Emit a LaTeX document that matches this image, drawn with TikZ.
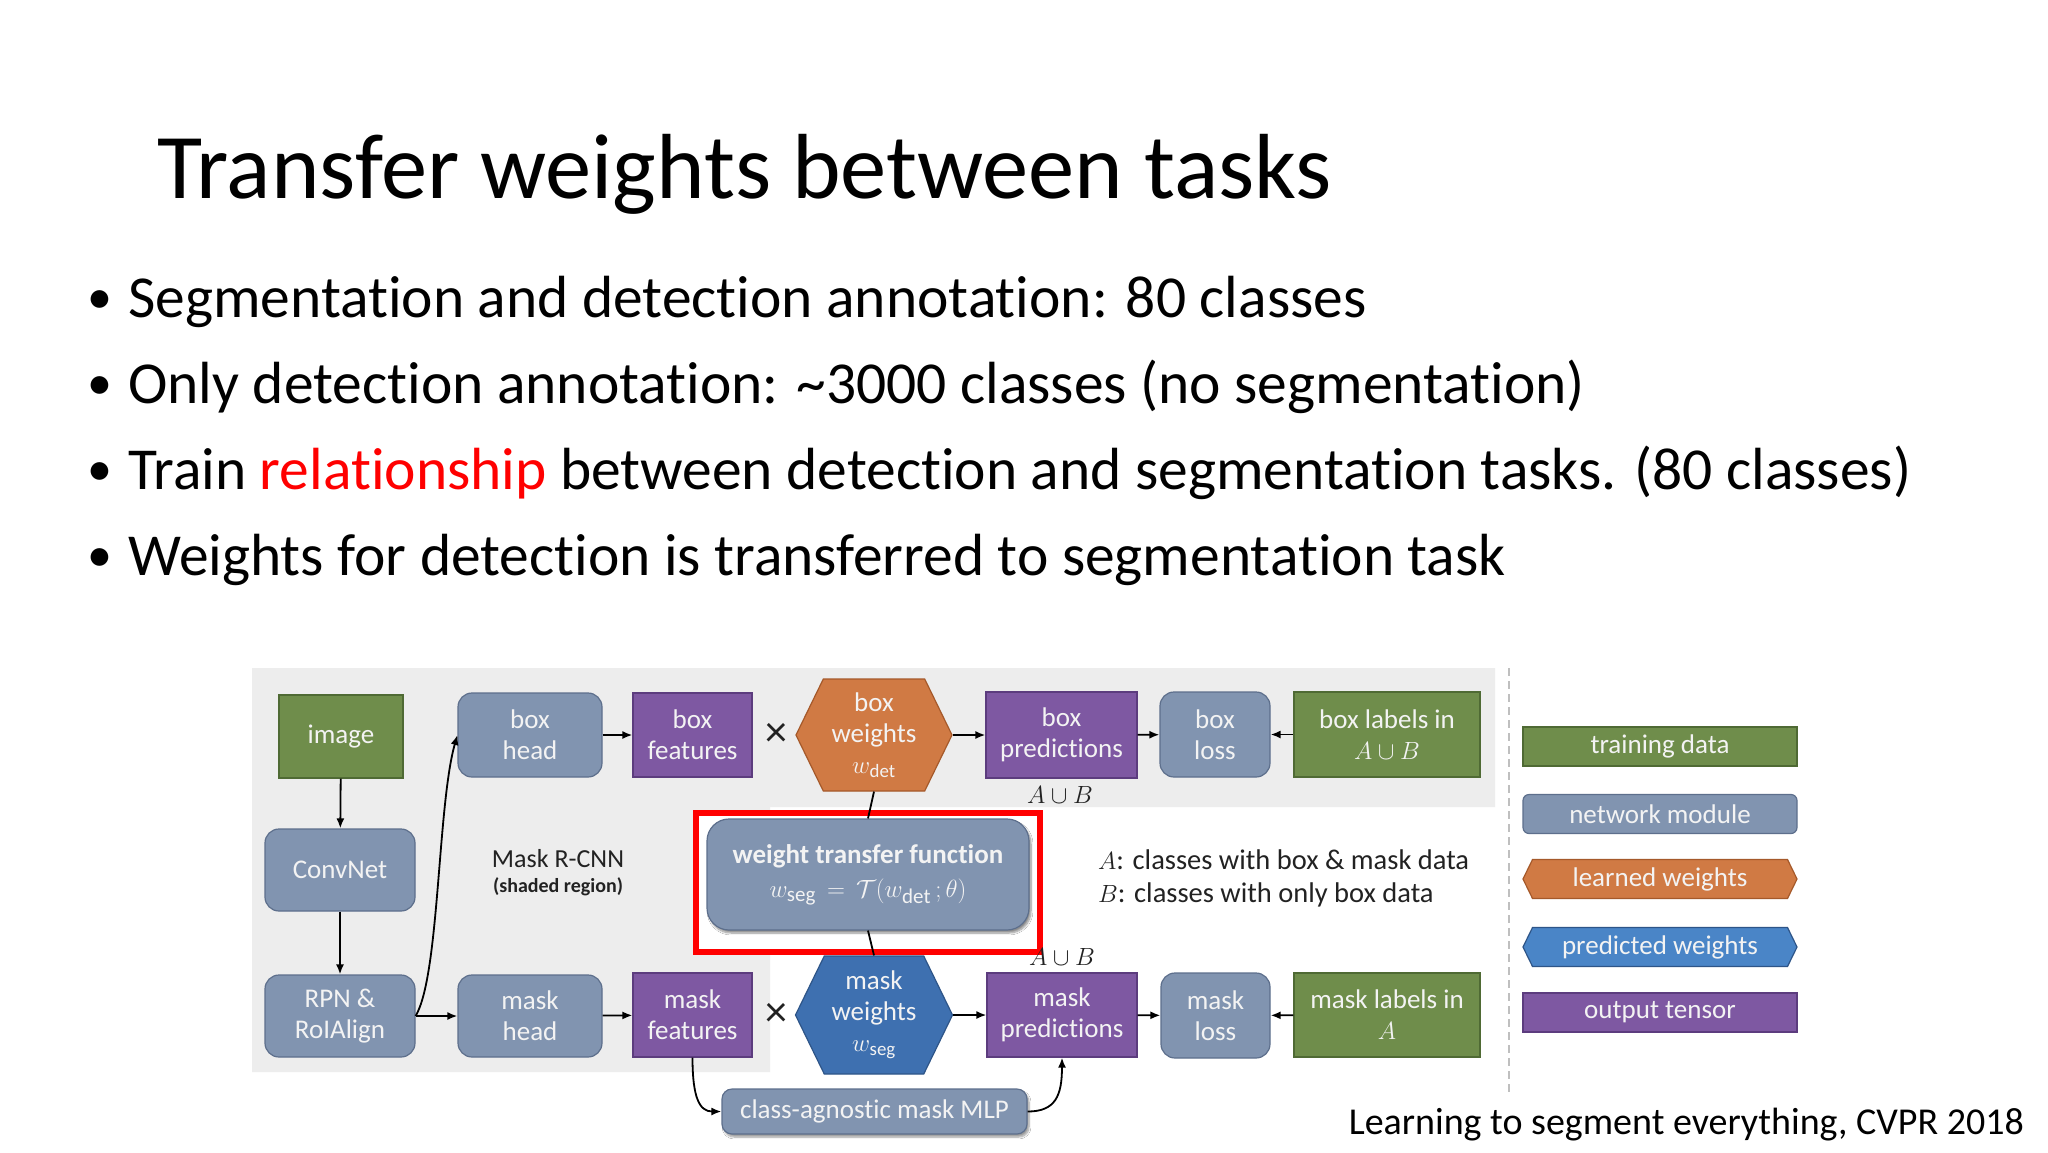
\documentclass[tikz,border=0pt]{standalone}
\usepackage{fontspec}
\setmainfont{Carlito}[Ligatures=NoCommon]
\usetikzlibrary{shapes.symbols,arrows.meta,shadows.blur}
\definecolor{cgreen}{HTML}{6F8D4B}
\definecolor{cgreenD}{HTML}{4F6A34}
\definecolor{cmod}{HTML}{8194B0}
\definecolor{cmodD}{HTML}{5D6F8C}
\definecolor{cpurp}{HTML}{7E58A2}
\definecolor{cpurpD}{HTML}{5C3C7E}
\definecolor{corange}{HTML}{D07A44}
\definecolor{corangeD}{HTML}{A5592A}
\definecolor{cblue}{HTML}{3E70B0}
\definecolor{cblueL}{HTML}{4A85C7}
\definecolor{cblueD}{HTML}{2E5588}
\definecolor{boxtxt}{HTML}{F3F3F3}
\definecolor{shadegray}{HTML}{EDEDED}
\definecolor{dtext}{HTML}{222222}
\definecolor{hlred}{HTML}{FF0000}
\begin{document}
\begin{tikzpicture}[x=1pt,y=-1pt,
  base/.style={draw, line width=1.2pt, text=boxtxt, align=center, inner sep=0pt,
    font=\fontsize{27}{31}\selectfont},
  datab/.style={base, fill=cgreen, draw=cgreenD},
  modb/.style={base, fill=cmod, draw=cmodD, rounded corners=14pt},
  outb/.style={base, fill=cpurp, draw=cpurpD},
  hexb/.style={base, signal, signal to=east and west, signal pointer angle=128},
  learnb/.style={hexb, fill=corange, draw=corangeD},
  predb/.style={hexb, fill=cblue, draw=cblueD},
  legb/.style={minimum width=274pt, minimum height=39pt},
  sym/.style={inner sep=0pt, font=\fontsize{44}{44}\selectfont, text=dtext},
  lbl/.style={inner sep=0pt, font=\fontsize{24}{28}\selectfont, text=dtext},
  arr/.style={-{Latex[length=10pt,width=8pt]}, line width=1.8pt, black},
  ln/.style={line width=1.8pt, black},
  slide/.style={inner sep=0pt, text=black, anchor=base west},
  bfont/.style={font=\fontsize{59.5}{70}\selectfont}
]
\useasboundingbox (0,0) rectangle (2048,1152);
\fill[white] (0,0) rectangle (2048,1152);

% title and bullets
\node[slide, font=\fontsize{92.5}{100}\selectfont] (title) at (157,198) {Transfer weights between tasks};
\foreach \yy/\nm in {317/b1,403/b2,489/b3,575/b4}{
  \node[inner sep=0pt, anchor=base, font=\fontsize{50}{60}\selectfont] (dot\nm) at (100,\yy-4) {•};
}
\node[slide, bfont] (b1) at (128,317) {Segmentation and detection annotation: 80 classes};
\node[slide, bfont] (b2) at (128,403) {Only detection annotation: \textasciitilde 3000 classes (no segmentation)};
\node[slide, bfont] (b3) at (128,489) {Train \textcolor{hlred}{relationship} between detection and segmentation tasks. (80 classes)};
\node[slide, bfont] (b4) at (128,575) {Weights for detection is transferred to segmentation task};

% shaded region
\fill[shadegray] (252,668) -- (1495,668) -- (1495,807) -- (770,807) -- (770,1072) -- (252,1072) -- cycle;

% red highlight
\node[draw=hlred, line width=6pt, fill=white, minimum width=344pt, minimum height=139pt, inner sep=0pt] (hl) at (868,882.5) {};

% top row
\node[datab, minimum width=124pt, minimum height=83pt] (img) at (341,736.5) {image};
\node[modb, minimum width=150pt, minimum height=82pt] (conv) at (340,870) {ConvNet};
\node[modb, minimum width=150pt, minimum height=82pt] (rpn) at (340,1016) {RPN \&\\RoIAlign};
\node[modb, minimum width=144pt, minimum height=84pt] (bhead) at (530,735) {box\\head};
\node[outb, minimum width=119pt, minimum height=84pt] (bfeat) at (692.5,735) {box\\features};
\node[sym] (x1) at (776,735) {×};
\node[learnb, minimum width=156pt, minimum height=112pt] (bw) at (874,735) {box\\weights\\$w_{\mathrm{det}}$};
\node[outb, minimum width=151pt, minimum height=86pt] (bpred) at (1061.5,735) {box\\predictions};
\node[modb, minimum width=110pt, minimum height=85pt] (bloss) at (1215,734.5) {box\\loss};
\node[datab, minimum width=186pt, minimum height=85pt] (blab) at (1387,734.5) {box labels in\\$A\cup B$};
\node[lbl] (aub1) at (1060,795) {$A\cup B$};

% middle
\node[inner sep=0pt, text=dtext, font=\fontsize{26}{30}\selectfont] (mrcnn) at (558,859) {Mask R-CNN};
\node[inner sep=0pt, text=dtext, font=\fontsize{20}{24}\selectfont\bfseries] (shreg) at (558,887) {(shaded region)};
\node[base, fill=cmod, draw=cmodD, rounded corners=22pt, minimum width=322pt, minimum height=111pt,
  font=\fontsize{27}{34}\selectfont,
  blur shadow={shadow xshift=2pt, shadow yshift=-3pt, shadow blur steps=8, shadow opacity=45}] (wtf) at (868,874.5)
  {\textbf{weight transfer function}\\{\fontsize{30}{34}\selectfont$w_{\mathrm{seg}} \,=\, \mathcal{T}(w_{\mathrm{det}}\,;\theta)$}};
\node[inner sep=0pt, anchor=west, text=dtext, font=\fontsize{28.5}{30}\selectfont] (defa) at (1098,860) {$A$: classes with box \& mask data};
\node[inner sep=0pt, anchor=west, text=dtext, font=\fontsize{28.5}{30}\selectfont] (defb) at (1098,895) {$B$: classes with only box data};

% bottom row
\node[modb, minimum width=144pt, minimum height=82pt] (mhead) at (530,1016) {mask\\head};
\node[outb, minimum width=119pt, minimum height=84pt] (mfeat) at (692.5,1015) {mask\\features};
\node[sym] (x2) at (776,1015) {×};
\node[predb, minimum width=157pt, minimum height=118pt] (mw) at (874,1015) {mask\\weights\\$w_{\mathrm{seg}}$};
\node[outb, minimum width=150pt, minimum height=84pt] (mpred) at (1062,1015) {mask\\predictions};
\node[modb, minimum width=109pt, minimum height=85pt] (mloss) at (1215.5,1015.5) {mask\\loss};
\node[datab, minimum width=186pt, minimum height=84pt] (mlab) at (1387,1015) {mask labels in\\$A$};
\node[lbl] (aub2) at (1062,957) {$A\cup B$};
\node[base, fill=cmod, draw=cmodD, rounded corners=10pt, minimum width=305pt, minimum height=45pt,
  blur shadow={shadow xshift=2pt, shadow yshift=-3pt, shadow blur steps=6, shadow opacity=40}] (mlp) at (874.5,1111.5) {class-agnostic mask MLP};

% connectors
\draw[arr] (img) -- (conv);
\draw[arr] (conv) -- (rpn);
\draw[arr] (rpn.east) -- (mhead.west);
\draw[arr] (rpn.east) .. controls +(24,-40) and +(-20,70) .. (bhead.west);
\draw[arr] (bhead) -- (bfeat);
\draw[arr] (bw.east) -- (bpred.west);
\draw[arr] (bpred) -- (bloss);
\draw[arr] (blab) -- (bloss);
\draw[ln] (bw.south) -- (wtf.north);
\draw[ln] (wtf.south) -- (mw.north);
\draw[arr] (mhead) -- (mfeat);
\draw[arr] (mw.east) -- (mpred.west);
\draw[arr] (mpred) -- (mloss);
\draw[arr] (mlab) -- (mloss);
\draw[arr] (mfeat.south) .. controls +(0,40) and +(-22,0) .. (mlp.west);
\draw[arr] (mlp.east) .. controls +(28,0) and +(0,38) .. (mpred.south);

% legend
\draw[dash pattern=on 8pt off 5pt, draw=black!25, line width=1.2pt] (1509,668) -- (1509,1092);
\node[datab, legb] (ltrain) at (1660,746.5) {training data};
\node[modb, legb, rounded corners=6pt] (lnet) at (1660,814) {network module};
\node[hexb, legb, fill=corange, draw=corangeD] (llearn) at (1660,879) {learned weights};
\node[hexb, legb, fill=cblueL, draw=cblueD] (lpred) at (1660,947) {predicted weights};
\node[outb, legb] (lout) at (1660,1012.5) {output tensor};

% citation
\node[inner sep=0pt, anchor=base east, font=\fontsize{38}{44}\selectfont] (cite) at (2024,1134) {Learning to segment everything, CVPR 2018};
\end{tikzpicture}
\end{document}
